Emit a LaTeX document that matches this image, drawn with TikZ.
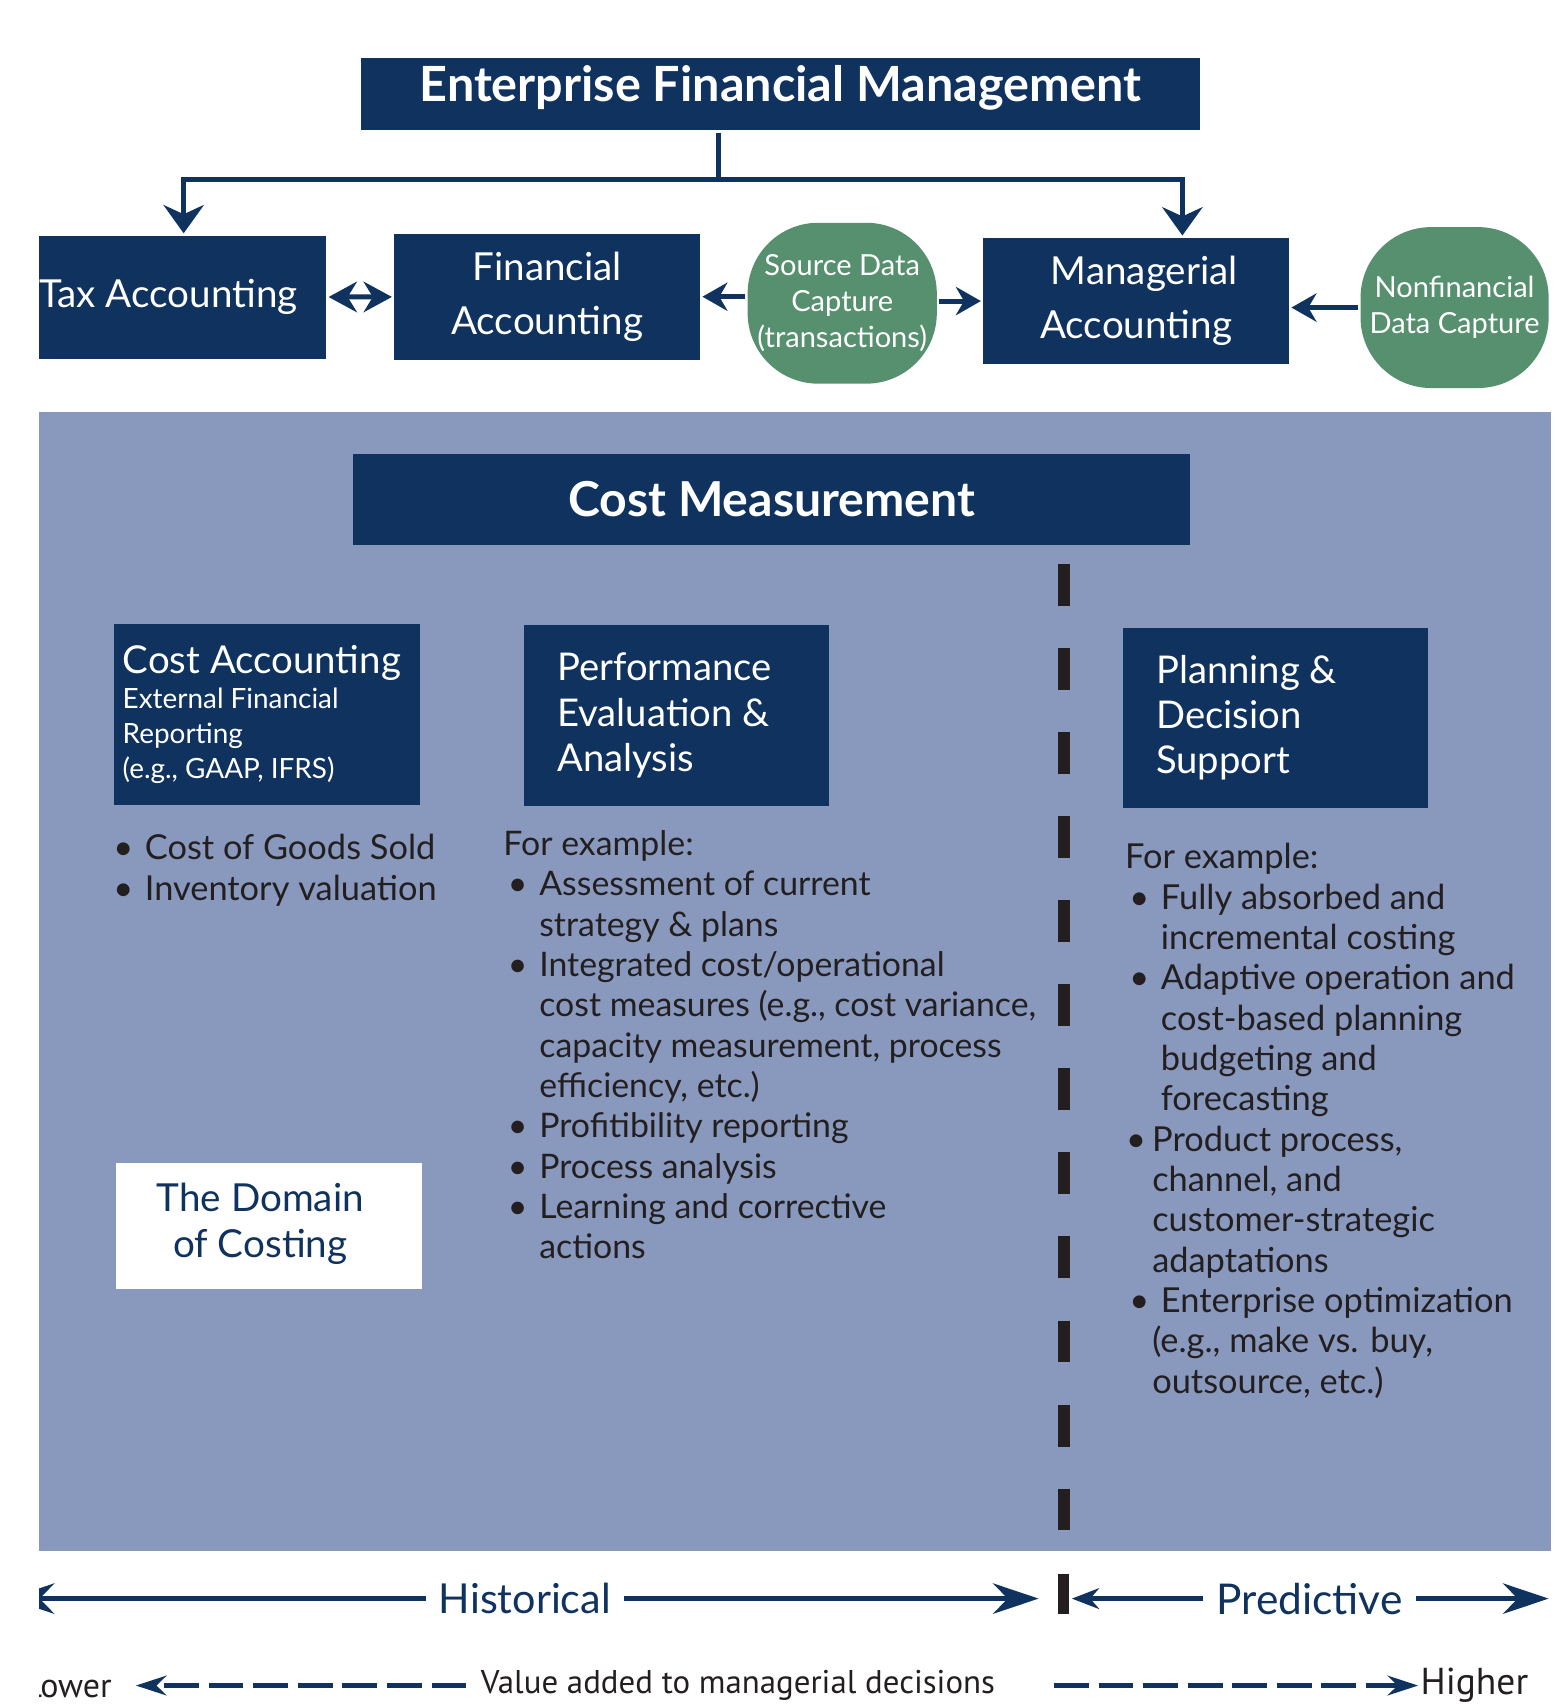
\documentclass[tikz,border=0pt]{standalone}
\usepackage{fontspec}
\setmainfont{Lato}
\newfontfamily\ptsans{PT Sans}
\usetikzlibrary{arrows.meta, calc}
\definecolor{cnavy}{HTML}{0F325E}
\definecolor{cgreen}{HTML}{56906F}
\definecolor{cslate}{HTML}{8999BD}
\definecolor{cink}{HTML}{231F20}
\newcommand{\fs}[2]{\fontsize{#1}{#2}\selectfont}
\newcommand{\itm}{\hspace*{0.04cm}\makebox[0.29cm][l]{\textbullet}}
\newcommand{\hang}{\hspace*{0.33cm}}
\tikzset{
  every picture/.style={line width=1.3pt},
  box/.style={fill=cnavy, text=white, inner sep=0pt, align=center, font=\fs{10.1}{14.2}},
  blob/.style={fill=cgreen, text=white, inner sep=0pt, align=center, rounded corners=0.65cm,
    minimum width=1.74cm, minimum height=1.48cm, font=\fs{7.6}{9.4}},
  head/.style={fill=cnavy, text=white, inner sep=0pt, font=\bfseries\fs{12.7}{14}},
  conn/.style={draw=cnavy, line width=1.3pt},
  arr/.style={conn, -{Stealth[length=2.3mm, width=2.6mm]}},
  drop/.style={conn, -{Stealth[length=2.6mm, width=3.7mm]}},
  span/.style={conn, -{Stealth[length=4.2mm, width=2.8mm]}},
  valarr/.style={conn, dash pattern=on 0.32cm off 0.09cm, -{Stealth[length=2.8mm, width=1.8mm]}},
  list/.style={text=cink, inner sep=0pt, anchor=north west, align=left, font=\fs{8.85}{10.55}},
  tag/.style={text=cnavy, inner ysep=0pt, inner xsep=0.1cm, font=\fs{10.8}{12}},
  rule/.style={text=cink, inner ysep=0pt, font=\ptsans\fs{8.6}{10}},
}

\begin{document}
\begin{tikzpicture}[x=0.01cm, y=-0.01cm]
  \useasboundingbox (0,0) rectangle (1430,1568);
  \begin{scope}
  \clip (36,0) rectangle (1430,1568);
  % top row
  \node[head, minimum width=7.72cm, minimum height=0.67cm, text height=0.37cm, text depth=0.24cm] (efm) at (718,86.5) {Enterprise Financial Management};
  \node[box, minimum width=2.9cm, minimum height=1.13cm] (tax) at (155,273.5) {Tax Accounting};
  \node[box, minimum width=2.81cm, minimum height=1.16cm] (fin) at (503.5,273) {Financial\\Accounting};
  \node[blob] (src) at (775,279) {Source Data\\Capture\\(transactions)};
  \node[box, minimum width=2.81cm, minimum height=1.16cm, text width=2.5cm] (mgr) at (1045.5,277) {\hspace*{0.15cm}Managerial\\Accounting};
  \node[blob, minimum width=1.73cm] (nonfin) at (1338.5,283) {Nonfinancial\\Data Capture};
  \coordinate (split) at (661,165);
  \draw[conn] (efm.south -| split) -- (split);
  \draw[drop] (split) -| ([xshift=0.14cm]tax.north);
  \draw[drop] (split) -| ([xshift=0.425cm]mgr.north);
  \draw[conn, {Stealth[length=2.6mm, width=2.8mm]}-{Stealth[length=2.6mm, width=2.8mm]}] (tax) -- (fin);
  \draw[arr] (src.west |- fin.east) -- (fin.east);
  \draw[arr] (src.east |- mgr.west) -- (mgr.west);
  \draw[arr] (nonfin.west) -- (nonfin.west -| mgr.east);

  % cost measurement panel
  \fill[cslate] (36,379) rectangle (1427,1427);
  \node[head, font=\bfseries\fs{12.6}{15}, minimum width=7.7cm, minimum height=0.83cm] (cm) at (710,459.5) {Cost Measurement};
  \draw[cink, line width=0.11cm, dash pattern=on 0.386cm off 0.387cm] (979,519) -- (979,1408);

  \node[box, align=flush left, minimum width=2.81cm, minimum height=1.67cm, text width=2.65cm] (ca) at (245.5,657.5)
    {{\fs{10.05}{12}Cost Accounting\par}{\fs{7.3}{9.1}External Financial\\Reporting\\(e.g., GAAP, IFRS)\par}};
  \node[box, align=flush left, minimum width=2.81cm, minimum height=1.67cm, text width=2.19cm, font=\fs{10}{11.9}] (pe) at (622.5,658.5)
    {Performance\\Evaluation \&\\Analysis};
  \node[box, align=flush left, minimum width=2.81cm, minimum height=1.65cm, text width=2.19cm, font=\fs{10}{11.8}] (pd) at (1173.5,660.5)
    {Planning \&\\Decision\\Support};

  \node[list, font=\fs{9}{10.8}] (lcol) at (102,765)
    {\makebox[0.29cm][l]{\textbullet}Cost of Goods Sold\\
     \makebox[0.29cm][l]{\textbullet}Inventory valuation};
  \node[list] (mcol) at (461,762)
    {For example:\\
     \itm Assessment of current\\
     \hang strategy \& plans\\
     \itm Integrated cost/operational\\
     \hang cost measures (e.g., cost variance,\\
     \hang capacity measurement, process\\
     \hang efficiency, etc.)\\
     \itm Profitibility reporting\\
     \itm Process analysis\\
     \itm Learning and corrective\\
     \hang actions};
  \node[list, font=\fs{9}{10.55}] (rcol) at (1033,774)
    {For example:\\
     \itm Fully absorbed and\\
     \hang incremental costing\\
     \itm Adaptive operation and\\
     \hang cost-based planning\\
     \hang budgeting and\\
     \hang forecasting\\
     \hspace*{0.01cm}\makebox[0.24cm][l]{\textbullet}Product process,\\
     \hspace*{0.25cm}channel, and\\
     \hspace*{0.25cm}customer-strategic\\
     \hspace*{0.25cm}adaptations\\
     \itm Enterprise optimization\\
     \hspace*{0.25cm}(e.g., make vs. buy,\\
     \hspace*{0.25cm}outsource, etc.)};

  \node[fill=white, inner sep=0pt, minimum width=2.81cm, minimum height=1.16cm,
    label={[text=cnavy, align=center, font=\fs{10.1}{11.9}, xshift=-0.08cm, yshift=0.02cm]center:The Domain\\of Costing}] (dom) at (247.5,1128) {};

  % time axis
  \node[fill=cink, inner sep=0pt, minimum width=0.1cm, minimum height=0.37cm] (bar) at (979,1466.5) {};
  \node[tag] (hist) at (483,1471) {Historical};
  \node[tag, font=\fs{11.1}{12}] (pred) at (1205,1471) {Predictive};
  \coordinate (histL) at (8,1471);
  \coordinate (predR) at (1425,1471);
  \draw[span] (hist.west) -- (histL);
  \draw[span] (hist.east) -- (hist.east -| {$(bar.west)+(-16,0)$});
  \draw[conn, -{Stealth[length=2.5mm, width=1.9mm]}] (pred.west) -- (pred.west -| bar.east);
  \draw[span] (pred.east) -- (predR);

  % value axis
  \node[rule, inner xsep=0.11cm] (val) at (679,1551) {Value added to managerial decisions};
  \node[rule, font=\ptsans\fs{8.9}{10}, inner xsep=0pt, anchor=east] (low) at (105,1551) {Lower};
  \node[rule, font=\ptsans\fs{9.8}{11}, inner xsep=0pt, anchor=west] (high) at (1305,1551) {Higher};
  \draw[valarr] (val.west) -- ([xshift=0.2cm]low.east);
  \draw[valarr] ([xshift=0.41cm]val.east) -- (high.west);
  \end{scope}
\end{tikzpicture}
\end{document}
